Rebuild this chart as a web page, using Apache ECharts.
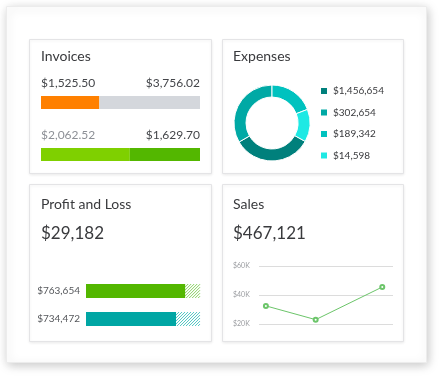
<!DOCTYPE html>
<html><head><meta charset="utf-8">
<script src="https://cdn.jsdelivr.net/npm/echarts@6/dist/echarts.min.js"></script>
<style>html,body{margin:0;padding:0;background:#fff}#c{width:441px;height:378px}</style>
</head><body><div id="c"></div>
<script>
// ---- data ----
const invoiceTopLabels = ['$1,525.50', '$3,756.02'];
const invoiceRow1Values = [1525.50, 2630.00];
const invoiceBottomLabels = ['$2,062.52', '$1,629.70'];
const invoiceRow2Values = [2062.52, 1629.70];
const expenseLabels = ['$1,456,654', '$302,654', '$189,342', '$14,598'];
const expenseShares = [121, 120, 69, 50];
const plTotal = '$29,182';
const plLabels = ['$763,654', '$734,472'];
const plSolid = [87, 79];
const plHatch = [13, 21];
const salesTotal = '$467,121';
const salesX = [0.9, 7.4, 16.1];
const salesValues = [32.5, 23, 45.5];
const salesTicks = [20, 40, 60];

const FONT = 'Lato, "Open Sans", sans-serif';
const DARK = '#393a3d';
const expenseColors = ['#00807c', '#00a9a5', '#00c2bf', '#1ee9e4'];
const plColors = ['#53b700', '#00a6a4'];
const plHatchColors = ['#86d05e', '#4fc6c3'];

function panel(x, y, w, h) {
  return { type: 'rect', z: -5, shape: { x: x, y: y, width: w, height: h },
    style: { fill: '#fff', stroke: '#e4e4e6', lineWidth: 1, shadowBlur: 3, shadowColor: 'rgba(0,0,0,0.08)', shadowOffsetY: 1 } };
}
function txt(x, y, s, size, color, align) {
  return { type: 'text', z: 10, x: x, y: y,
    style: { text: s, font: 'normal ' + size + 'px ' + FONT, fill: color || DARK, align: align || 'left', verticalAlign: 'middle' } };
}

// hatched remainder bar drawn through the axis scales
function renderHatch(params, api) {
  const cat = api.value(0), start = api.value(1), len = api.value(2);
  const p0 = api.coord([start, cat]);
  const p1 = api.coord([start + len, cat]);
  const h = 14;
  const x0 = p0[0], x1 = p1[0], yTop = p0[1] - h / 2, yBot = p0[1] + h / 2;
  const color = plHatchColors[params.dataIndex];
  const children = [{ type: 'rect', shape: { x: x0, y: yTop, width: x1 - x0, height: h }, style: { fill: '#fff' } }];
  const step = 3;
  for (let k = x0 - h; k < x1; k += step) {
    const tMin = Math.max(0, x0 - k), tMax = Math.min(h, x1 - k);
    if (tMin < tMax) {
      children.push({ type: 'line', shape: { x1: k + tMin, y1: yBot - tMin, x2: k + tMax, y2: yBot - tMax },
        style: { stroke: color, lineWidth: 1 } });
    }
  }
  return { type: 'group', children: children };
}

const chart = echarts.init(document.getElementById('c'));
const barGrid = (top, h) => ({ left: 41, top: top, width: 159, height: h });

chart.setOption({
  animation: false,
  graphic: [
    { type: 'rect', z: -10, shape: { x: 6.5, y: 6.5, width: 420, height: 356 },
      style: { fill: '#fff', stroke: '#ececec', lineWidth: 1, shadowBlur: 10, shadowColor: 'rgba(0,0,0,0.22)', shadowOffsetX: 1, shadowOffsetY: 2 } },
    panel(29.5, 39.5, 182, 134),
    panel(222.5, 39.5, 181, 134),
    panel(29.5, 184.5, 182, 157),
    panel(222.5, 184.5, 181, 157),
    txt(41, 56, 'Invoices', 14),
    txt(41, 83, invoiceTopLabels[0], 12, '#44464a'),
    txt(200, 83, invoiceTopLabels[1], 12, '#44464a', 'right'),
    txt(41, 135, invoiceBottomLabels[0], 12, '#8d9096'),
    txt(200, 135, invoiceBottomLabels[1], 12, '#44464a', 'right'),
    txt(233, 56, 'Expenses', 14),
    txt(41, 204, 'Profit and Loss', 14),
    txt(41, 234, plTotal, 17),
    txt(233, 204, 'Sales', 14),
    txt(233, 234, salesTotal, 17)
  ],
  grid: [
    barGrid(96, 13),
    barGrid(148, 13),
    { left: 86, top: 277, width: 114, height: 56 },
    { left: 259, top: 266, width: 134, height: 58 }
  ],
  xAxis: [
    { gridIndex: 0, type: 'value', min: 0, max: invoiceRow1Values[0] + invoiceRow1Values[1], show: false },
    { gridIndex: 1, type: 'value', min: 0, max: invoiceRow2Values[0] + invoiceRow2Values[1], show: false },
    { gridIndex: 2, type: 'value', min: 0, max: 100, show: false },
    { gridIndex: 3, type: 'value', min: 0, max: 17.5, show: false }
  ],
  yAxis: [
    { gridIndex: 0, type: 'category', data: ['a'], show: false },
    { gridIndex: 1, type: 'category', data: ['b'], show: false },
    { gridIndex: 2, type: 'category', data: plLabels, inverse: true,
      axisLine: { show: false }, axisTick: { show: false },
      axisLabel: { margin: 6, fontSize: 10, fontFamily: FONT, color: '#55575b' } },
    { gridIndex: 3, type: 'value', min: salesTicks[0], max: salesTicks[salesTicks.length - 1], interval: 20,
      axisLine: { show: false }, axisTick: { show: false },
      splitLine: { lineStyle: { color: '#dcdcdc', width: 1 } },
      axisLabel: { align: 'left', margin: 26, fontSize: 7, fontFamily: FONT, color: '#9a9ca0', formatter: v => '$' + v + 'K' } }
  ],
  legend: {
    data: expenseLabels, orient: 'vertical', left: 319, top: 86, padding: 0,
    itemWidth: 8, itemHeight: 8, itemGap: 11.5, icon: 'rect', selectedMode: false,
    textStyle: { fontSize: 10, fontFamily: FONT, color: DARK }
  },
  series: [
    { type: 'bar', xAxisIndex: 0, yAxisIndex: 0, stack: 'i1', barWidth: '100%', data: [invoiceRow1Values[0]], itemStyle: { color: '#ff8000' } },
    { type: 'bar', xAxisIndex: 0, yAxisIndex: 0, stack: 'i1', barWidth: '100%', data: [invoiceRow1Values[1]], itemStyle: { color: '#d4d7dc' } },
    { type: 'bar', xAxisIndex: 1, yAxisIndex: 1, stack: 'i2', barWidth: '100%', data: [invoiceRow2Values[0]], itemStyle: { color: '#7fd000' } },
    { type: 'bar', xAxisIndex: 1, yAxisIndex: 1, stack: 'i2', barWidth: '100%', data: [invoiceRow2Values[1]], itemStyle: { color: '#53b700' } },
    { type: 'bar', xAxisIndex: 2, yAxisIndex: 2, barWidth: 14,
      data: plSolid.map((v, i) => ({ value: v, itemStyle: { color: plColors[i] } })) },
    { type: 'custom', xAxisIndex: 2, yAxisIndex: 2, renderItem: renderHatch, encode: { x: [1, 2], y: 0 },
      data: plHatch.map((v, i) => [i, plSolid[i], v]) },
    { type: 'line', xAxisIndex: 3, yAxisIndex: 3, data: salesX.map((x, i) => [x, salesValues[i]]),
      symbol: 'emptyCircle', symbolSize: 4, lineStyle: { color: '#6cc56a', width: 1 }, itemStyle: { color: '#6cc56a', borderWidth: 1 } },
    { type: 'pie', center: [272, 123], radius: [26, 38], startAngle: -29, label: { show: false },
      itemStyle: { borderColor: '#fff', borderWidth: 1 },
      data: expenseLabels.map((n, i) => ({ name: n, value: expenseShares[i], itemStyle: { color: expenseColors[i] } })) }
  ]
});
</script></body></html>
